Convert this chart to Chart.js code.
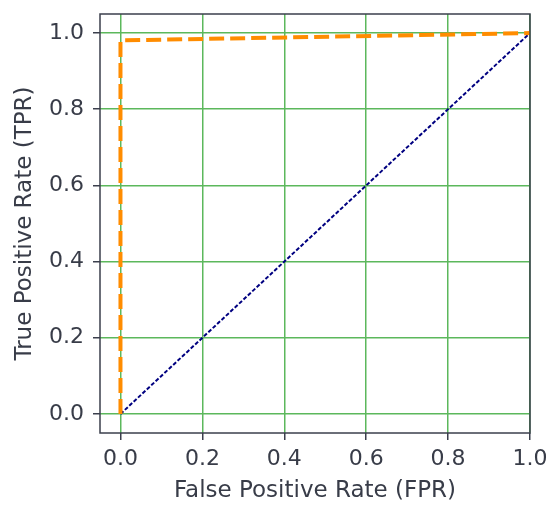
<!DOCTYPE html>
<html>
<head>
<meta charset="utf-8">
<script src="https://cdn.jsdelivr.net/npm/chart.js@4"></script>
<style>
html,body{margin:0;padding:0;background:#fff;}
#wrap{width:550px;height:510px;position:relative;}
</style>
</head>
<body>
<div id="wrap"><canvas id="c"></canvas></div>
<script>
// ROC curve data
const fpr = [0.0, 0.0, 0.01, 1.0];
const tpr = [0.0, 0.98, 0.981, 1.0];
// chance diagonal
const diagX = [0.0, 1.0];
const diagY = [0.0, 1.0];
// tick labels
const xTicks = [0.0, 0.2, 0.4, 0.6, 0.8, 1.0];
const yTicks = [0.0, 0.2, 0.4, 0.6, 0.8, 1.0];

const TEXT = '#383c48';
const FRAME = '#3b3f4c';
const GRID = '#5cb85c';
const FONT = 'DejaVu Sans';

const frame = {
  id: 'frame',
  afterDatasetsDraw(chart) {
    const a = chart.chartArea, ctx = chart.ctx;
    ctx.save();
    ctx.strokeStyle = FRAME;
    ctx.lineWidth = 1.5;
    ctx.strokeRect(a.left, a.top, a.right - a.left, a.bottom - a.top);
    ctx.restore();
  }
};

new Chart(document.getElementById('c'), {
  type: 'scatter',
  data: {
    datasets: [
      {
        data: fpr.map((x, i) => ({x: x, y: tpr[i]})),
        showLine: true,
        borderColor: 'darkorange',
        borderWidth: 4,
        borderDash: [15, 6],
        pointRadius: 0,
        fill: false,
        tension: 0
      },
      {
        data: diagX.map((x, i) => ({x: x, y: diagY[i]})),
        showLine: true,
        borderColor: 'navy',
        borderWidth: 2,
        borderDash: [4, 2],
        pointRadius: 0,
        fill: false
      }
    ]
  },
  options: {
    responsive: true,
    maintainAspectRatio: false,
    animation: false,
    layout: {padding: {left: 0, right: 20, top: 14, bottom: 0}},
    plugins: {legend: {display: false}, tooltip: {enabled: false}},
    scales: {
      x: {
        type: 'linear',
        min: -0.05,
        max: 1.0,
        afterBuildTicks: s => { s.ticks = xTicks.map(v => ({value: v})); },
        afterFit: s => { s.height = 77; s.paddingLeft = 0; s.paddingRight = 0; },
        grid: {color: GRID, lineWidth: 1.5, tickColor: FRAME, tickLength: 7, tickWidth: 1.5},
        border: {display: false},
        ticks: {color: TEXT, font: {family: FONT, size: 22}, padding: 6,
                callback: v => Number(v).toFixed(1)},
        title: {display: true, text: 'False Positive Rate (FPR)', color: TEXT,
                font: {family: FONT, size: 23}, padding: {top: 0, bottom: 5}}
      },
      y: {
        type: 'linear',
        min: -0.05,
        max: 1.05,
        afterBuildTicks: s => { s.ticks = yTicks.map(v => ({value: v})); },
        afterFit: s => { s.width = 100; s.paddingTop = 0; s.paddingBottom = 0; },
        grid: {color: GRID, lineWidth: 1.5, tickColor: FRAME, tickLength: 7, tickWidth: 1.5},
        border: {display: false},
        ticks: {color: TEXT, font: {family: FONT, size: 22}, padding: 9,
                callback: v => Number(v).toFixed(1)},
        title: {display: true, text: 'True Positive Rate (TPR)', color: TEXT,
                font: {family: FONT, size: 23}, padding: {top: 11, bottom: 0}}
      }
    }
  },
  plugins: [frame]
});
</script>
</body>
</html>
